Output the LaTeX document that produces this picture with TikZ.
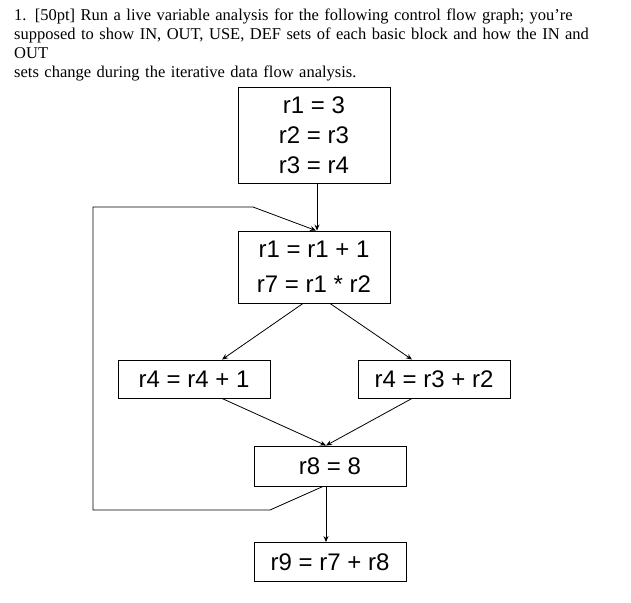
\documentclass[tikz,border=0pt]{standalone}
\usepackage{fontspec}
\setmainfont{Liberation Serif}
\newfontfamily\arial{Liberation Sans}
\usetikzlibrary{arrows.meta}
\begin{document}
\begin{tikzpicture}[x=1pt,y=-1pt,
  blk/.style={draw,line width=0.9pt,font=\arial\fontsize{24}{30}\selectfont,align=center,inner sep=0pt},
  con/.style={line width=0.8pt,-{Stealth[length=6pt,width=5pt]}},
  ln/.style={line width=0.8pt}]
\useasboundingbox (0,0) rectangle (631,602);
\node[anchor=north west,align=left,font=\fontsize{16.5}{18.8}\selectfont,inner sep=0pt,text width=600pt] (hdr) at (14,9)
 {1. [50pt] Run a live variable analysis for the following control flow graph; you're\\ supposed to show IN, OUT, USE, DEF sets of each basic block and how the IN and OUT\\ sets change during the iterative data flow analysis.};
\node[blk,minimum width=152pt,minimum height=96pt] (b1) at (314,135) {r1 = 3\\r2 = r3\\r3 = r4};
\node[blk,minimum width=152pt,minimum height=72pt,font=\arial\fontsize{24}{35}\selectfont] (b2) at (314,267) {r1 = r1 + 1\\r7 = r1 * r2};
\node[blk,minimum width=152pt,minimum height=38pt] (b3) at (194,379) {r4 = r4 + 1};
\node[blk,minimum width=152pt,minimum height=38pt] (b4) at (434,379) {r4 = r3 + r2};
\node[blk,minimum width=152pt,minimum height=40pt] (b5) at (330,466) {r8 = 8};
\node[blk,minimum width=152pt,minimum height=39pt] (b6) at (330,562) {r9 = r7 + r8};
\draw[con] (b1.south -| 317,0) -- (b2.north -| 317,0);
\draw[con] (b2.south -| 303,0) -- (b3.north -| 222,0);
\draw[con] (b2.south -| 330,0) -- (b4.north -| 412,0);
\draw[con] (b3.south -| 222,0) -- (b5.north -| 326,0);
\draw[con] (b4.south -| 412,0) -- (b5.north -| 326,0);
\draw[con] (b5.south -| 326,0) -- (b6.north -| 326,0);
\coordinate (k1) at (270,510);
\coordinate (k2) at (93,510);
\coordinate (k3) at (93,207);
\coordinate (k4) at (253,207);
\draw[ln] (b5.south -| 323,0) -- (k1) -- (k2) -- (k3) -- (k4);
\draw[con] (k4) -- (b2.north -| 316,0);
\end{tikzpicture}
\end{document}
